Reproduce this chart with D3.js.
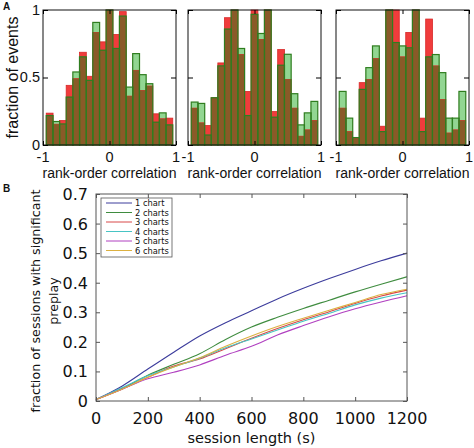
<!DOCTYPE html>
<html>
<head>
<meta charset="utf-8">
<script src="https://cdnjs.cloudflare.com/ajax/libs/d3/7.8.5/d3.min.js"></script>
<style>
  body { margin: 0; background: #fff; }
  svg { display: block; }
  text { font-family: "Liberation Sans", Arial, sans-serif; fill: #111; }
  .b text { font-family: "DejaVu Sans", sans-serif; }
</style>
</head>
<body>
<div id="chart"></div>
<script>
// Panel A data: 19 bins, red and green fractions per panel
const binCenters = [-0.9, -0.8, -0.7, -0.6, -0.5, -0.4, -0.3, -0.2, -0.1, 0, 0.1, 0.2, 0.3, 0.4, 0.5, 0.6, 0.7, 0.8, 0.9];
const red1 = [0.236, 0.154, 0.181, 0.442, 0.491, 0.687, 0.509, 0.834, 0.764, 1.0, 0.819, 0.988, 0.362, 0.553, 0.404, 0.437, 0.231, 0.194, 0.199];
const green1 = [0.218, 0.174, 0.156, 0.355, 0.541, 0.653, 0.479, 0.908, 0.702, 1.0, 0.715, 0.955, 0.429, 0.677, 0.521, 0.454, 0.169, 0.238, 0.149];
const red2 = [0.273, 0.164, 0.144, 0.35, 0.608, 0.943, 1.0, 0.670, 0.397, 1.0, 0.782, 1.0, 0.248, 0.707, 0.486, 0.273, 0.065, 0.112, 0.181];
const green2 = [0.318, 0.308, 0.074, 0.35, 0.586, 0.859, 1.0, 0.715, 0.218, 0.968, 0.826, 1.0, 0.206, 0.591, 0.672, 0.380, 0.149, 0.238, 0.323];
const red3 = [0.273, 0.099, 0.05, 0.462, 0.486, 0.640, 0.139, 1.0, 1.0, 0.653, 0.834, 1.0, 0.199, 0.933, 0.586, 0.337, 0.089, 0.112, 0.181];
const green3 = [0.397, 0.199, 0.055, 0.412, 0.573, 0.734, 0.099, 1.0, 0.759, 0.734, 0.720, 1.0, 0.099, 0.653, 0.670, 0.536, 0.199, 0.199, 0.397];
const histTicksX = [-1, 0, 1];
const histTicksY = [0, 0.5, 1];

// Panel B data
const sessionLength = [0, 100, 200, 300, 400, 500, 600, 700, 800, 900, 1000, 1100, 1200];
const chart1 = [0.005, 0.05, 0.108, 0.165, 0.22, 0.265, 0.305, 0.345, 0.381, 0.414, 0.445, 0.474, 0.5];
const chart2 = [0.005, 0.042, 0.087, 0.124, 0.16, 0.208, 0.25, 0.283, 0.313, 0.341, 0.369, 0.395, 0.42];
const chart3 = [0.005, 0.04, 0.08, 0.118, 0.142, 0.177, 0.212, 0.245, 0.275, 0.302, 0.33, 0.355, 0.375];
const chart4 = [0.005, 0.045, 0.085, 0.115, 0.145, 0.18, 0.21, 0.24, 0.27, 0.297, 0.325, 0.348, 0.366];
const chart5 = [0.005, 0.04, 0.075, 0.097, 0.122, 0.155, 0.185, 0.223, 0.255, 0.285, 0.312, 0.335, 0.356];
const chart6 = [0.005, 0.04, 0.08, 0.115, 0.146, 0.185, 0.22, 0.252, 0.28, 0.307, 0.333, 0.36, 0.378];
const seriesNames = ["1 chart", "2 charts", "3 charts", "4 charts", "5 charts", "6 charts"];
const seriesColors = ["#3c3c9c", "#3f8c3f", "#d84848", "#48c4c4", "#b040c0", "#dcb040"];
const xTicksB = [0, 200, 400, 600, 800, 1000, 1200];
const yTicksB = [0, 0.1, 0.2, 0.3, 0.4, 0.5, 0.6, 0.7];

const svg = d3.select("#chart").append("svg")
    .attr("width", 474)
    .attr("height", 448);

// panel letters
svg.append("text").attr("x", 3).attr("y", 10).style("font-weight", "bold").style("font-size", "10px").text("A");
svg.append("text").attr("x", 3).attr("y", 192).style("font-weight", "bold").style("font-size", "10px").text("B");

// Function - draw one histogram panel
function drawHist(left, reds, greens, showY) {
    const w = 133, top = 10, bottom = 145;
    const x = d3.scaleLinear().domain([-1, 1]).range([left, left + w]);
    const y = d3.scaleLinear().domain([0, 1]).range([bottom, top]);
    const half = 0.0513;
    const g = svg.append("g");

    const bins = binCenters.map(function(c, i) { return { c: c, r: reds[i], g: greens[i] }; });
    const barX = function(d) { return x(d.c - half); };
    const barW = function(d) { return x(d.c + half) - x(d.c - half); };

    g.selectAll(".gbar").data(bins).join("rect")
        .attr("x", barX).attr("width", barW)
        .attr("y", function(d) { return y(d.g); })
        .attr("height", function(d) { return y(0) - y(d.g); })
        .attr("fill", "#92d692");
    g.selectAll(".rbar").data(bins).join("rect")
        .attr("x", barX).attr("width", barW)
        .attr("y", function(d) { return y(d.r); })
        .attr("height", function(d) { return y(0) - y(d.r); })
        .attr("fill", "#f03c3c")
        .attr("stroke", "#d82828")
        .attr("stroke-width", 0.8);
    g.selectAll(".obar").data(bins).join("rect")
        .attr("x", barX).attr("width", barW)
        .attr("y", function(d) { return y(Math.min(d.r, d.g)); })
        .attr("height", function(d) { return y(0) - y(Math.min(d.r, d.g)); })
        .attr("fill", "#8a5a28");
    g.selectAll(".gline").data(bins).join("rect")
        .attr("x", barX).attr("width", barW)
        .attr("y", function(d) { return y(d.g); })
        .attr("height", function(d) { return y(0) - y(d.g); })
        .attr("fill", "none")
        .attr("stroke", "#2f7d1f")
        .attr("stroke-width", 1.2);

    // box
    g.append("rect").attr("x", left).attr("y", top).attr("width", w).attr("height", bottom - top)
        .attr("fill", "none").attr("stroke", "#111").attr("stroke-width", 1);

    // inward ticks
    g.append("g").attr("transform", `translate(0,${bottom})`)
        .call(d3.axisTop(x).tickValues(histTicksX).tickSize(4).tickFormat(""))
        .call(function(s) { s.select(".domain").remove(); });
    g.append("g").attr("transform", `translate(0,${top})`)
        .call(d3.axisBottom(x).tickValues(histTicksX).tickSize(4).tickFormat(""))
        .call(function(s) { s.select(".domain").remove(); });
    g.append("g").attr("transform", `translate(${left},0)`)
        .call(d3.axisRight(y).tickValues(histTicksY).tickSize(5).tickFormat(""))
        .call(function(s) { s.select(".domain").remove(); });
    g.append("g").attr("transform", `translate(${left + w},0)`)
        .call(d3.axisLeft(y).tickValues(histTicksY).tickSize(5).tickFormat(""))
        .call(function(s) { s.select(".domain").remove(); });

    // tick labels
    g.selectAll(".xl").data(histTicksX).join("text")
        .attr("x", function(d) { return x(d); })
        .attr("y", 162)
        .attr("text-anchor", "middle")
        .style("font-size", "14.5px")
        .text(function(d) { return d; });
    if (showY) {
        g.selectAll(".yl").data(histTicksY).join("text")
            .attr("x", left - 3)
            .attr("y", function(d) { return y(d) + 4.5; })
            .attr("text-anchor", "end")
            .style("font-size", "14.5px")
            .text(function(d) { return d; });
        g.append("text")
            .attr("transform", `translate(${left - 25},${(top + bottom) / 2}) rotate(-90)`)
            .attr("text-anchor", "middle")
            .style("font-size", "16px")
            .text("fraction of events");
    }
    g.append("text")
        .attr("x", left + w / 2)
        .attr("y", 178)
        .attr("text-anchor", "middle")
        .style("font-size", "14px")
        .text("rank-order correlation");
}

drawHist(43, red1, green1, true);
drawHist(188, red2, green2, false);
drawHist(336, red3, green3, false);

// Panel B - line chart
const margin = { left: 96, right: 407, top: 194, bottom: 401 };
const gb = svg.append("g").attr("class", "b");
const xb = d3.scaleLinear().domain([0, 1200]).range([margin.left, margin.right]);
const yb = d3.scaleLinear().domain([0, 0.7]).range([margin.bottom, margin.top]);

const series = [chart1, chart2, chart3, chart4, chart5, chart6];
const line = d3.line()
    .curve(d3.curveMonotoneX)
    .x(function(d, i) { return xb(sessionLength[i]); })
    .y(function(d) { return yb(d); });

gb.selectAll(".series").data(series).join("path")
    .attr("d", line)
    .attr("fill", "none")
    .attr("stroke", function(d, i) { return seriesColors[i]; })
    .attr("stroke-width", 1.1);

// box and inward ticks
gb.append("rect").attr("x", margin.left).attr("y", margin.top)
    .attr("width", margin.right - margin.left).attr("height", margin.bottom - margin.top)
    .attr("fill", "none").attr("stroke", "#555").attr("stroke-width", 1);
const tickStyle = function(s) { s.select(".domain").remove(); s.selectAll("line").attr("stroke", "#555"); };
gb.append("g").attr("transform", `translate(0,${margin.bottom})`)
    .call(d3.axisTop(xb).tickValues(xTicksB).tickSize(4).tickFormat("")).call(tickStyle);
gb.append("g").attr("transform", `translate(0,${margin.top})`)
    .call(d3.axisBottom(xb).tickValues(xTicksB).tickSize(4).tickFormat("")).call(tickStyle);
gb.append("g").attr("transform", `translate(${margin.left},0)`)
    .call(d3.axisRight(yb).tickValues(yTicksB).tickSize(4).tickFormat("")).call(tickStyle);
gb.append("g").attr("transform", `translate(${margin.right},0)`)
    .call(d3.axisLeft(yb).tickValues(yTicksB).tickSize(4).tickFormat("")).call(tickStyle);

gb.selectAll(".xtl").data(xTicksB).join("text")
    .attr("x", function(d) { return xb(d); })
    .attr("y", 424)
    .attr("text-anchor", "middle")
    .style("font-size", "16px")
    .text(function(d) { return d; });
gb.selectAll(".ytl").data(yTicksB).join("text")
    .attr("x", 88)
    .attr("y", function(d) { return yb(d) + 6; })
    .attr("text-anchor", "end")
    .style("font-size", "16px")
    .text(function(d) { return d; });

gb.append("text")
    .attr("x", (margin.left + margin.right) / 2)
    .attr("y", 443)
    .attr("text-anchor", "middle")
    .style("font-size", "14.5px")
    .text("session length (s)");
gb.append("text")
    .attr("transform", "translate(40,301) rotate(-90)")
    .attr("text-anchor", "middle")
    .style("font-size", "12.7px")
    .text("fraction of sessions with significant");
gb.append("text")
    .attr("transform", "translate(58,301) rotate(-90)")
    .attr("text-anchor", "middle")
    .style("font-size", "12.7px")
    .text("preplay");

// legend
const legend = gb.append("g");
legend.append("rect").attr("x", 101).attr("y", 198).attr("width", 71).attr("height", 59)
    .attr("fill", "#fff").attr("stroke", "#555").attr("stroke-width", 0.8);
const rows = legend.selectAll(".row").data(seriesNames).join("g")
    .attr("transform", function(d, i) { return `translate(0,${203 + i * 9.5})`; });
rows.append("line").attr("x1", 106).attr("x2", 132)
    .attr("stroke", function(d, i) { return seriesColors[i]; }).attr("stroke-width", 1);
rows.append("text").attr("x", 135).attr("y", 3)
    .style("font-size", "8.3px")
    .text(function(d) { return d; });
</script>
</body>
</html>
